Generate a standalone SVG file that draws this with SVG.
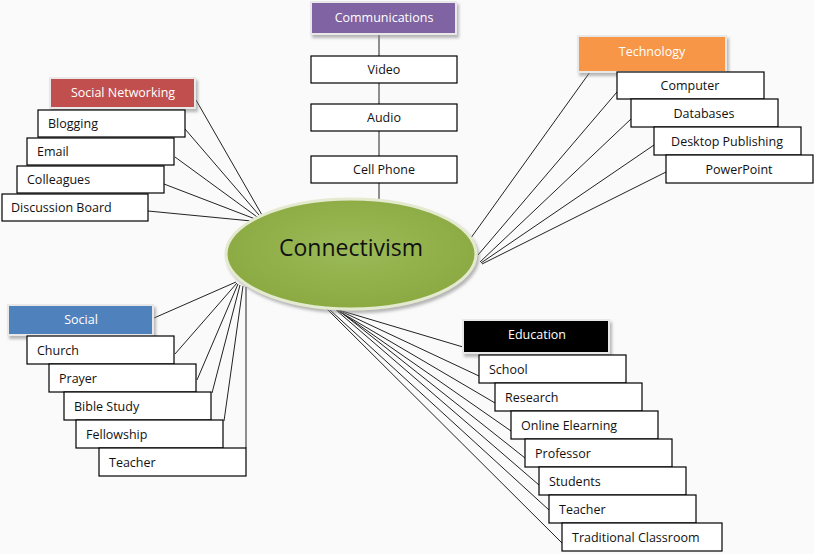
<svg xmlns="http://www.w3.org/2000/svg" width="814" height="554" viewBox="0 0 814 554">
<defs>
<filter id="sh" x="-10%" y="-20%" width="130%" height="150%"><feDropShadow dx="2" dy="3" stdDeviation="1.5" flood-color="#888" flood-opacity="0.6"/></filter>
<radialGradient id="gr" cx="50%" cy="45%" r="60%"><stop offset="0" stop-color="#9bbb59"/><stop offset="1" stop-color="#8aa83f"/></radialGradient>
</defs>
<style>
text{font-family:"Open Sans","Liberation Sans",sans-serif;font-size:12.5px;fill:#111}
.b{fill:#fff;stroke:#000;stroke-width:1.2}
.h{stroke:#e8e8e8;stroke-width:2;filter:url(#sh)}
.w{fill:#fff}
.c line,.c path{stroke:#222;stroke-width:1;fill:none}
</style>
<rect width="814" height="554" fill="#fafafa"/>
<g class="c">
<line x1="379" y1="34" x2="379" y2="56"/><line x1="379" y1="83" x2="379" y2="104"/><line x1="379" y1="131" x2="379" y2="156"/><line x1="379" y1="183" x2="379" y2="210"/>
<line x1="196" y1="100" x2="266" y2="222"/><line x1="185" y1="129" x2="265" y2="222"/><line x1="175" y1="157" x2="264" y2="222"/><line x1="164" y1="184" x2="263" y2="222"/><line x1="148" y1="211" x2="262" y2="222"/>
<line x1="590" y1="72" x2="468" y2="242"/><line x1="617" y1="92" x2="478" y2="255"/><line x1="631" y1="119" x2="480" y2="262"/><line x1="654" y1="145" x2="481" y2="263"/><line x1="666" y1="172" x2="482" y2="264"/>
<line x1="154" y1="318" x2="236" y2="282"/><line x1="175" y1="354" x2="237" y2="283"/><line x1="197" y1="380" x2="238" y2="284"/><line x1="212" y1="393" x2="240" y2="285"/><line x1="224" y1="421" x2="243" y2="286"/><line x1="246" y1="448" x2="246" y2="287"/>
<line x1="463" y1="347" x2="332" y2="308"/><line x1="479" y1="376" x2="334" y2="308"/><line x1="495" y1="403" x2="335" y2="309"/><line x1="511" y1="431" x2="336" y2="309"/><line x1="525" y1="458" x2="337" y2="309"/><line x1="539" y1="485" x2="336" y2="310"/><line x1="549" y1="510" x2="330" y2="310"/><line x1="562" y1="543" x2="327" y2="309"/>
</g>
<g id="center"><ellipse cx="351" cy="254" rx="125" ry="55" fill="url(#gr)" stroke="#e4ead0" stroke-width="3" filter="url(#sh)"/><text x="351" y="256" text-anchor="middle" style="font-size:23px">Connectivism</text></g>
<g id="communications"><rect class="h" x="311" y="2" width="145" height="32" fill="#8064a2"/><text class="w" x="384" y="22" text-anchor="middle" style="fill:#fff">Communications</text></g>
<g id="video"><rect class="b" x="311" y="56" width="146" height="27"/><text x="384" y="74" text-anchor="middle">Video</text></g>
<g id="audio"><rect class="b" x="311" y="104" width="146" height="27"/><text x="384" y="122" text-anchor="middle">Audio</text></g>
<g id="cellphone"><rect class="b" x="311" y="156" width="146" height="27"/><text x="384" y="174" text-anchor="middle">Cell Phone</text></g>
<g id="socialnet"><rect class="h" x="50" y="78" width="145" height="30" fill="#c0504d"/><text x="123" y="97" text-anchor="middle" style="fill:#fff">Social Networking</text></g>
<g id="blogging"><rect class="b" x="38" y="110" width="147" height="27"/><text x="48" y="128">Blogging</text></g>
<g id="email"><rect class="b" x="27" y="138" width="147" height="27"/><text x="37" y="156">Email</text></g>
<g id="colleagues"><rect class="b" x="17" y="166" width="147" height="27"/><text x="27" y="184">Colleagues</text></g>
<g id="discussion"><rect class="b" x="2" y="194" width="146" height="27"/><text x="11" y="212">Discussion Board</text></g>
<g id="technology"><rect class="h" x="578" y="36" width="148" height="36" fill="#f79646"/><text x="652" y="56" text-anchor="middle" style="fill:#fff">Technology</text></g>
<g id="computer"><rect class="b" x="617" y="72" width="147" height="27"/><text x="690" y="90" text-anchor="middle">Computer</text></g>
<g id="databases"><rect class="b" x="631" y="99" width="147" height="28"/><text x="704" y="118" text-anchor="middle">Databases</text></g>
<g id="desktop"><rect class="b" x="654" y="127" width="147" height="28"/><text x="727" y="146" text-anchor="middle">Desktop Publishing</text></g>
<g id="powerpoint"><rect class="b" x="666" y="155" width="147" height="28"/><text x="739" y="174" text-anchor="middle">PowerPoint</text></g>
<g id="social"><rect class="h" x="8" y="305" width="145" height="30" fill="#4f81bd"/><text x="81" y="324" text-anchor="middle" style="fill:#fff">Social</text></g>
<g id="church"><rect class="b" x="27" y="336" width="147" height="28"/><text x="37" y="355">Church</text></g>
<g id="prayer"><rect class="b" x="49" y="364" width="147" height="28"/><text x="59" y="383">Prayer</text></g>
<g id="bible"><rect class="b" x="64" y="392" width="147" height="28"/><text x="74" y="411">Bible Study</text></g>
<g id="fellowship"><rect class="b" x="76" y="420" width="147" height="28"/><text x="86" y="439">Fellowship</text></g>
<g id="teacher1"><rect class="b" x="99" y="448" width="147" height="28"/><text x="109" y="467">Teacher</text></g>
<g id="education"><rect class="h" x="463" y="320" width="146" height="33" fill="#000"/><text x="537" y="339" text-anchor="middle" style="fill:#fff">Education</text></g>
<g id="school"><rect class="b" x="479" y="355" width="147" height="28"/><text x="489" y="374">School</text></g>
<g id="research"><rect class="b" x="495" y="383" width="147" height="28"/><text x="505" y="402">Research</text></g>
<g id="online"><rect class="b" x="511" y="411" width="147" height="28"/><text x="521" y="430">Online Elearning</text></g>
<g id="professor"><rect class="b" x="525" y="439" width="147" height="28"/><text x="535" y="458">Professor</text></g>
<g id="students"><rect class="b" x="539" y="467" width="147" height="28"/><text x="549" y="486">Students</text></g>
<g id="teacher2"><rect class="b" x="549" y="495" width="147" height="28"/><text x="559" y="514">Teacher</text></g>
<g id="traditional"><rect class="b" x="562" y="523" width="160" height="28"/><text x="572" y="542">Traditional Classroom</text></g>
</svg>
